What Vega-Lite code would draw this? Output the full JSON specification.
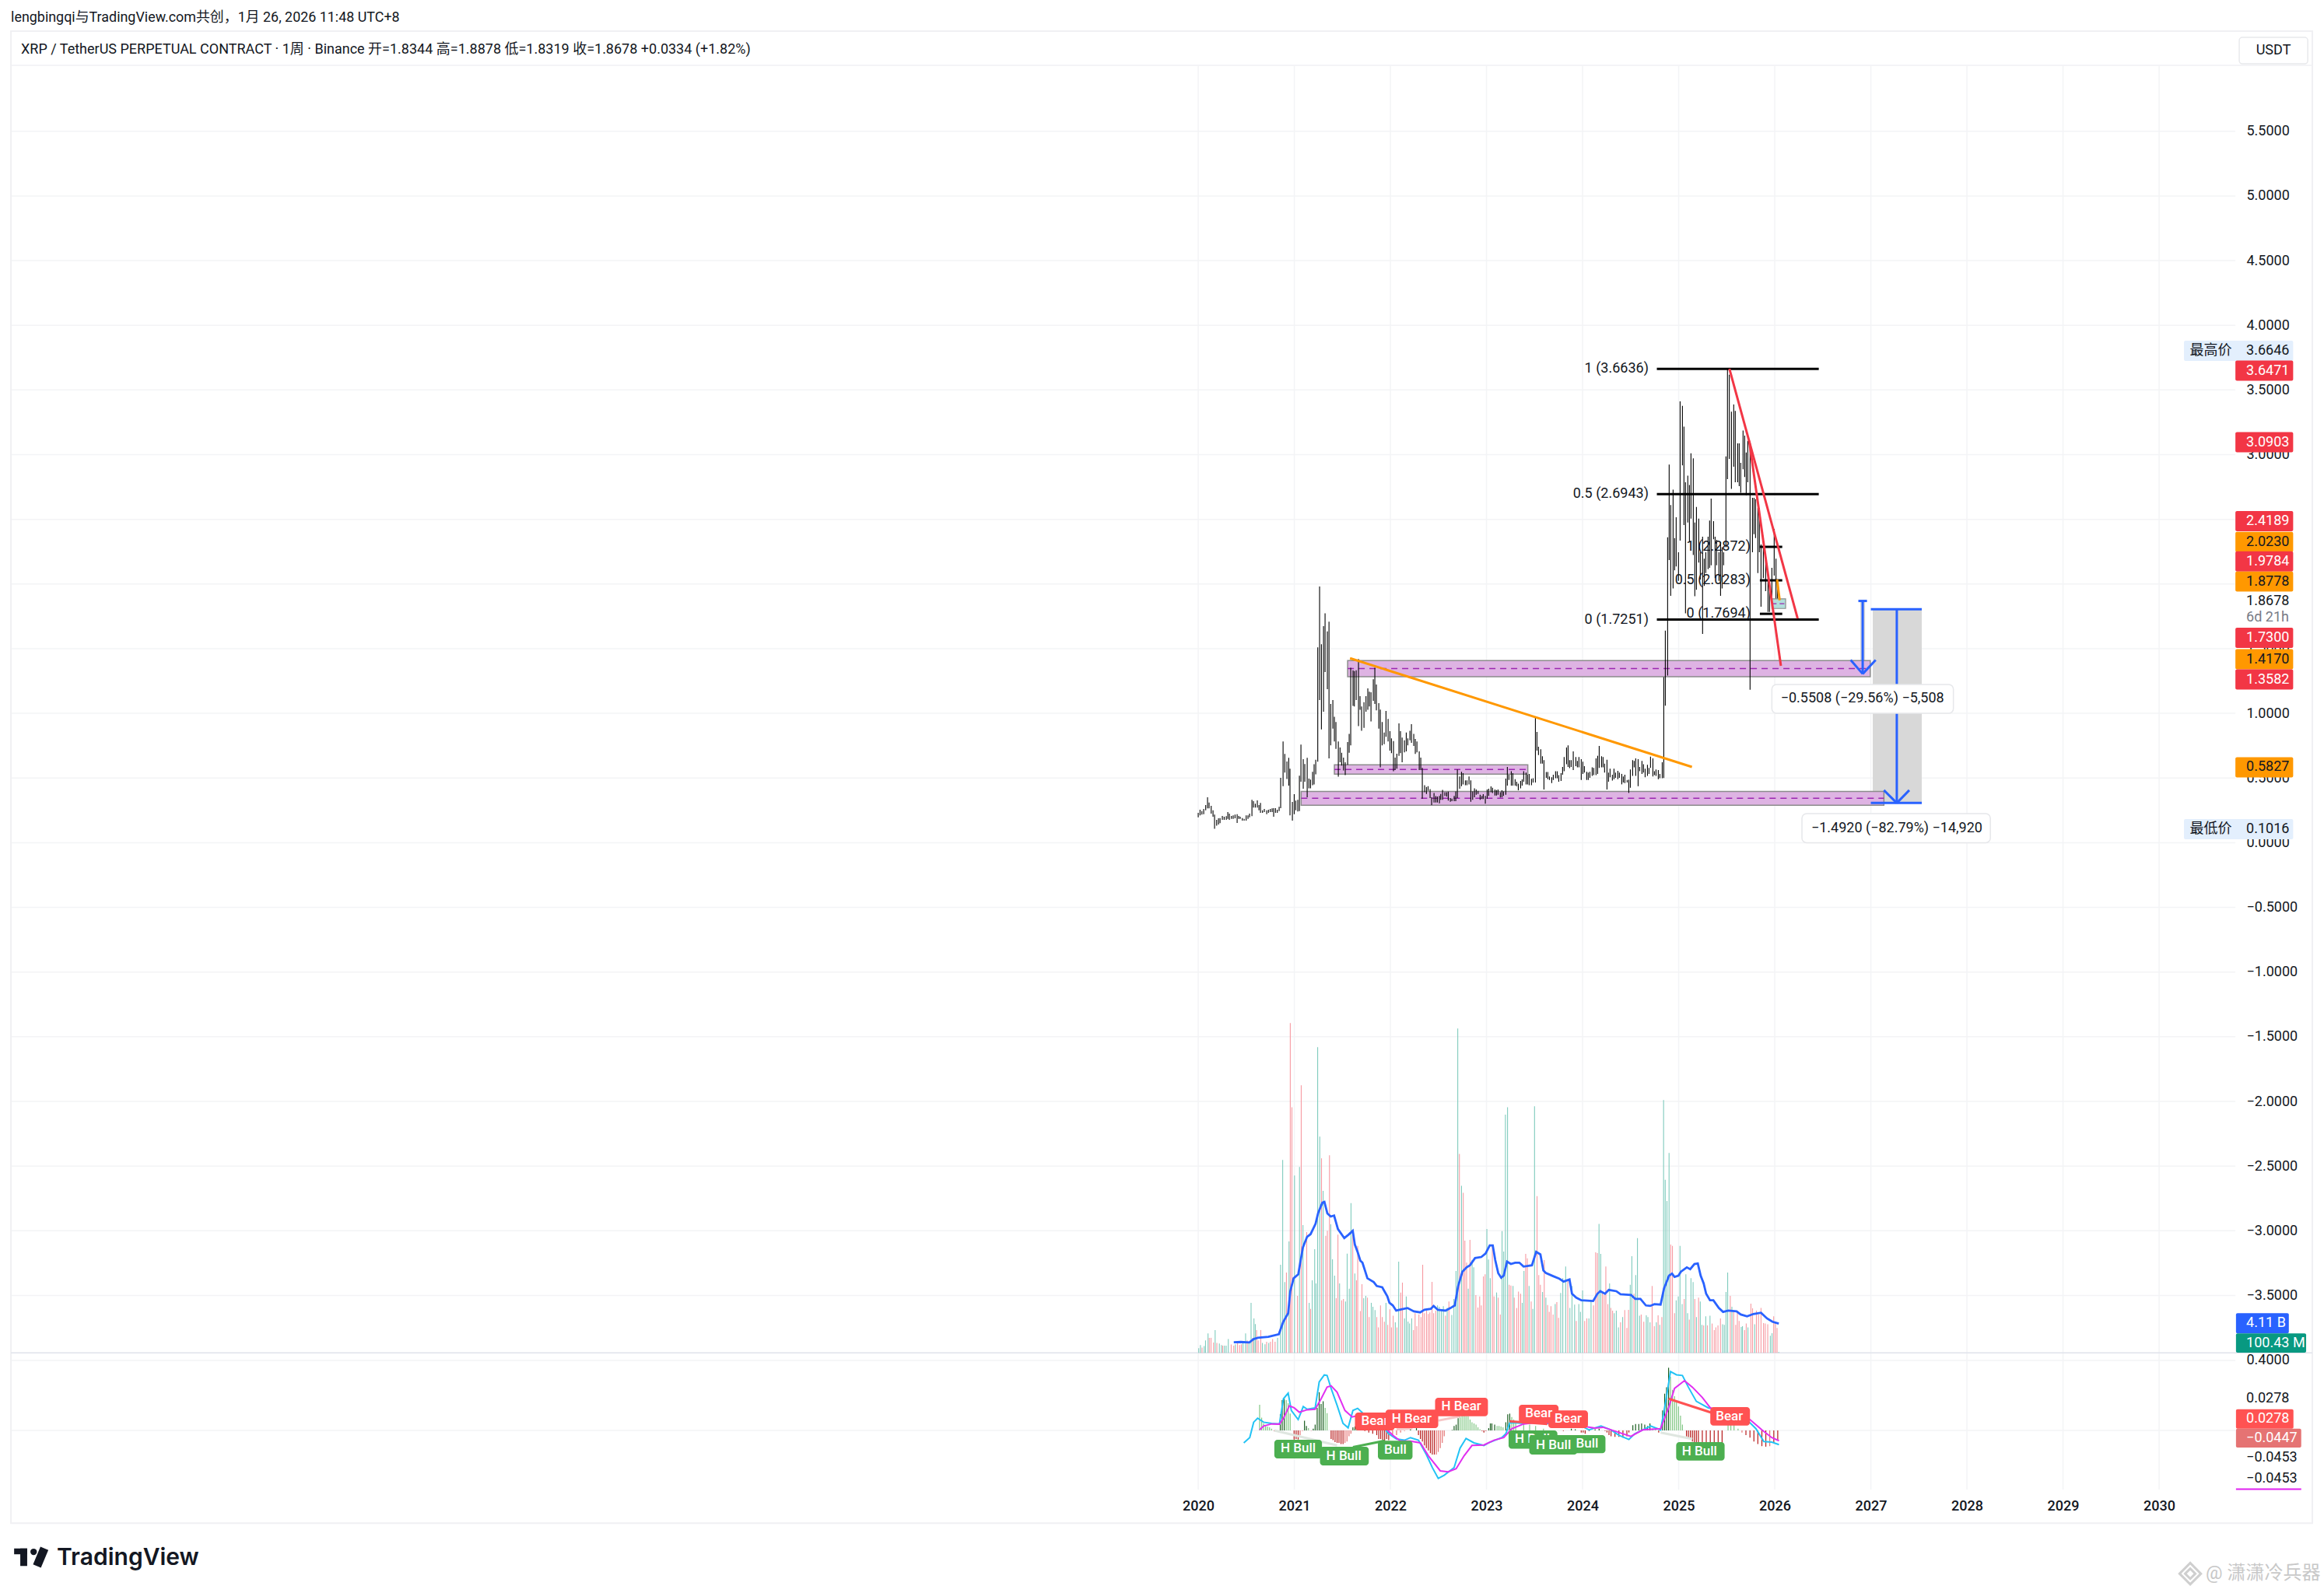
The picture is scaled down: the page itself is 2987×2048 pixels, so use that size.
{
"$schema":"https://vega.github.io/schema/vega-lite/v6.json",
"width":2987,"height":2048,"padding":0,"autosize":{"type":"none"},"background":"#ffffff",
"config":{"font":"Roboto, 'Noto Sans CJK SC'","view":{"stroke":null},"legend":{"disable":true}},
"datasets":{
"frame":[{"t":2007.644,"t2":2031.595,"p":6.274,"p2":-5.26}],
"gridH":[{"p":5.5,"t":2007.652,"t2":2030.794},{"p":5,"t":2007.652,"t2":2030.794},{"p":4.5,"t":2007.652,"t2":2030.794},{"p":4,"t":2007.652,"t2":2030.794},{"p":3.5,"t":2007.652,"t2":2030.794},{"p":3,"t":2007.652,"t2":2030.794},{"p":2.5,"t":2007.652,"t2":2030.794},{"p":2,"t":2007.652,"t2":2030.794},{"p":1.5,"t":2007.652,"t2":2030.794},{"p":1,"t":2007.652,"t2":2030.794},{"p":0.5,"t":2007.652,"t2":2030.794},{"p":0,"t":2007.652,"t2":2030.794},{"p":-0.5,"t":2007.652,"t2":2030.794},{"p":-1,"t":2007.652,"t2":2030.794},{"p":-1.5,"t":2007.652,"t2":2030.794},{"p":-2,"t":2007.652,"t2":2030.794},{"p":-2.5,"t":2007.652,"t2":2030.794},{"p":-3,"t":2007.652,"t2":2030.794},{"p":-3.5,"t":2007.652,"t2":2030.794}],
"gridV":[{"t":2020,"p":6.01,"p2":-5},{"t":2021,"p":6.01,"p2":-5},{"t":2022,"p":6.01,"p2":-5},{"t":2023,"p":6.01,"p2":-5},{"t":2024,"p":6.01,"p2":-5},{"t":2025,"p":6.01,"p2":-5},{"t":2026,"p":6.01,"p2":-5},{"t":2027,"p":6.01,"p2":-5},{"t":2028,"p":6.01,"p2":-5},{"t":2029,"p":6.01,"p2":-5},{"t":2030,"p":6.01,"p2":-5}],
"paneTop":[{"t":2007.644,"t2":2031.595,"p":6.009}],
"paneMid":[{"t":2007.644,"t2":2031.595,"p":-3.943}],
"boxes":[{"t":2027.02,"t2":2027.53,"p":1.805,"p2":0.307},{"t":2026.89,"t2":2026.94,"p":1.869,"p2":1.305}],
"zones":[{"t":2021.555,"t2":2026.994,"p":1.408,"p2":1.283,"mid":1.347},{"t":2021.417,"t2":2023.43,"p":0.602,"p2":0.53,"mid":0.566},{"t":2021.071,"t2":2027.136,"p":0.397,"p2":0.289,"mid":0.343}],
"greenBox":[{"t":2025.97,"t2":2026.113,"p":1.885,"p2":1.811,"mid":1.848}],
"candles":[
{"t":2020.000,"p":0.231,"p2":0.197},{"t":2020.019,"p":0.255,"p2":0.211},{"t":2020.038,"p":0.245,"p2":0.217},{"t":2020.057,"p":0.261,"p2":0.221},{"t":2020.078,"p":0.291,"p2":0.251},{"t":2020.097,"p":0.351,"p2":0.265},{"t":2020.113,"p":0.311,"p2":0.265},{"t":2020.135,"p":0.285,"p2":0.225},{"t":2020.154,"p":0.251,"p2":0.201},{"t":2020.170,"p":0.217,"p2":0.107},
{"t":2020.192,"p":0.177,"p2":0.131},{"t":2020.211,"p":0.189,"p2":0.141},{"t":2020.227,"p":0.191,"p2":0.151},{"t":2020.251,"p":0.207,"p2":0.177},{"t":2020.270,"p":0.201,"p2":0.177},{"t":2020.292,"p":0.205,"p2":0.177},{"t":2020.308,"p":0.237,"p2":0.185},{"t":2020.324,"p":0.225,"p2":0.177},{"t":2020.346,"p":0.207,"p2":0.185},{"t":2020.364,"p":0.211,"p2":0.185},
{"t":2020.383,"p":0.217,"p2":0.189},{"t":2020.405,"p":0.221,"p2":0.153},{"t":2020.421,"p":0.207,"p2":0.185},{"t":2020.437,"p":0.201,"p2":0.185},{"t":2020.459,"p":0.191,"p2":0.171},{"t":2020.478,"p":0.185,"p2":0.171},{"t":2020.499,"p":0.211,"p2":0.171},{"t":2020.518,"p":0.211,"p2":0.185},{"t":2020.534,"p":0.225,"p2":0.197},{"t":2020.559,"p":0.331,"p2":0.205},
{"t":2020.575,"p":0.321,"p2":0.271},{"t":2020.594,"p":0.301,"p2":0.271},{"t":2020.615,"p":0.327,"p2":0.271},{"t":2020.632,"p":0.291,"p2":0.251},{"t":2020.648,"p":0.307,"p2":0.231},{"t":2020.669,"p":0.251,"p2":0.231},{"t":2020.688,"p":0.261,"p2":0.237},{"t":2020.713,"p":0.251,"p2":0.221},{"t":2020.731,"p":0.255,"p2":0.231},{"t":2020.750,"p":0.261,"p2":0.237},
{"t":2020.769,"p":0.265,"p2":0.237},{"t":2020.785,"p":0.267,"p2":0.201},{"t":2020.804,"p":0.267,"p2":0.231},{"t":2020.823,"p":0.255,"p2":0.231},{"t":2020.842,"p":0.277,"p2":0.245},{"t":2020.858,"p":0.502,"p2":0.267},{"t":2020.883,"p":0.782,"p2":0.437},{"t":2020.901,"p":0.686,"p2":0.542},{"t":2020.923,"p":0.628,"p2":0.492},{"t":2020.942,"p":0.656,"p2":0.442},
{"t":2020.955,"p":0.572,"p2":0.211},{"t":2020.980,"p":0.315,"p2":0.171},{"t":2020.999,"p":0.375,"p2":0.221},{"t":2021.015,"p":0.325,"p2":0.251},{"t":2021.036,"p":0.331,"p2":0.241},{"t":2021.053,"p":0.518,"p2":0.245},{"t":2021.069,"p":0.758,"p2":0.472},{"t":2021.093,"p":0.646,"p2":0.417},{"t":2021.109,"p":0.608,"p2":0.472},{"t":2021.134,"p":0.656,"p2":0.351},
{"t":2021.152,"p":0.496,"p2":0.421},{"t":2021.169,"p":0.488,"p2":0.421},{"t":2021.190,"p":0.548,"p2":0.445},{"t":2021.206,"p":0.606,"p2":0.451},{"t":2021.223,"p":0.642,"p2":0.528},{"t":2021.244,"p":1.51,"p2":0.626},{"t":2021.263,"p":1.981,"p2":1.103},{"t":2021.282,"p":1.534,"p2":0.876},{"t":2021.304,"p":1.674,"p2":1.013},{"t":2021.320,"p":1.774,"p2":1.319},
{"t":2021.344,"p":1.634,"p2":1.187},{"t":2021.361,"p":1.708,"p2":0.652},{"t":2021.379,"p":1.073,"p2":0.752},{"t":2021.401,"p":1.103,"p2":0.882},{"t":2021.417,"p":0.973,"p2":0.782},{"t":2021.433,"p":0.933,"p2":0.726},{"t":2021.458,"p":0.782,"p2":0.511},{"t":2021.476,"p":0.736,"p2":0.622},{"t":2021.493,"p":0.696,"p2":0.596},{"t":2021.512,"p":0.658,"p2":0.558},
{"t":2021.530,"p":0.622,"p2":0.522},{"t":2021.555,"p":0.778,"p2":0.602},{"t":2021.571,"p":0.842,"p2":0.696},{"t":2021.587,"p":1.353,"p2":0.752},{"t":2021.611,"p":1.333,"p2":1.057},{"t":2021.625,"p":1.327,"p2":1.053},{"t":2021.644,"p":1.333,"p2":1.103},{"t":2021.668,"p":1.42,"p2":0.902},{"t":2021.684,"p":1.133,"p2":1.027},{"t":2021.700,"p":1.053,"p2":0.866},
{"t":2021.725,"p":1.087,"p2":0.888},{"t":2021.746,"p":1.133,"p2":1.013},{"t":2021.765,"p":1.193,"p2":1.027},{"t":2021.781,"p":1.167,"p2":1.053},{"t":2021.798,"p":1.163,"p2":0.937},{"t":2021.822,"p":1.263,"p2":1.097},{"t":2021.838,"p":1.353,"p2":1.073},{"t":2021.854,"p":1.223,"p2":1.023},{"t":2021.879,"p":1.079,"p2":0.882},{"t":2021.895,"p":1.029,"p2":0.582},
{"t":2021.914,"p":0.933,"p2":0.752},{"t":2021.935,"p":0.852,"p2":0.762},{"t":2021.954,"p":1.019,"p2":0.818},{"t":2021.976,"p":0.957,"p2":0.782},{"t":2021.995,"p":0.862,"p2":0.712},{"t":2022.011,"p":0.806,"p2":0.692},{"t":2022.032,"p":0.786,"p2":0.552},{"t":2022.049,"p":0.658,"p2":0.562},{"t":2022.067,"p":0.688,"p2":0.572},{"t":2022.089,"p":0.923,"p2":0.672},
{"t":2022.105,"p":0.862,"p2":0.692},{"t":2022.122,"p":0.812,"p2":0.622},{"t":2022.146,"p":0.792,"p2":0.698},{"t":2022.165,"p":0.852,"p2":0.706},{"t":2022.181,"p":0.806,"p2":0.752},{"t":2022.203,"p":0.866,"p2":0.792},{"t":2022.219,"p":0.916,"p2":0.772},{"t":2022.243,"p":0.842,"p2":0.748},{"t":2022.259,"p":0.802,"p2":0.686},{"t":2022.276,"p":0.782,"p2":0.698},
{"t":2022.300,"p":0.706,"p2":0.562},{"t":2022.316,"p":0.658,"p2":0.562},{"t":2022.332,"p":0.578,"p2":0.341},{"t":2022.356,"p":0.445,"p2":0.391},{"t":2022.375,"p":0.431,"p2":0.377},{"t":2022.392,"p":0.437,"p2":0.401},{"t":2022.413,"p":0.415,"p2":0.345},{"t":2022.429,"p":0.351,"p2":0.291},{"t":2022.454,"p":0.385,"p2":0.311},{"t":2022.473,"p":0.361,"p2":0.311},
{"t":2022.489,"p":0.357,"p2":0.311},{"t":2022.510,"p":0.361,"p2":0.305},{"t":2022.524,"p":0.377,"p2":0.331},{"t":2022.543,"p":0.409,"p2":0.331},{"t":2022.567,"p":0.391,"p2":0.361},{"t":2022.586,"p":0.391,"p2":0.357},{"t":2022.602,"p":0.395,"p2":0.325},{"t":2022.624,"p":0.345,"p2":0.317},{"t":2022.640,"p":0.341,"p2":0.321},{"t":2022.664,"p":0.361,"p2":0.321},
{"t":2022.680,"p":0.397,"p2":0.321},{"t":2022.697,"p":0.566,"p2":0.345},{"t":2022.721,"p":0.512,"p2":0.417},{"t":2022.740,"p":0.548,"p2":0.437},{"t":2022.756,"p":0.538,"p2":0.451},{"t":2022.780,"p":0.482,"p2":0.445},{"t":2022.796,"p":0.482,"p2":0.445},{"t":2022.818,"p":0.512,"p2":0.451},{"t":2022.837,"p":0.482,"p2":0.317},{"t":2022.856,"p":0.397,"p2":0.331},
{"t":2022.875,"p":0.421,"p2":0.351},{"t":2022.893,"p":0.411,"p2":0.371},{"t":2022.912,"p":0.401,"p2":0.377},{"t":2022.934,"p":0.371,"p2":0.331},{"t":2022.953,"p":0.361,"p2":0.337},{"t":2022.966,"p":0.375,"p2":0.337},{"t":2022.988,"p":0.361,"p2":0.301},
{"t":2023.007,"p":0.411,"p2":0.341},{"t":2023.023,"p":0.417,"p2":0.361},{"t":2023.047,"p":0.435,"p2":0.391},{"t":2023.063,"p":0.425,"p2":0.385},{"t":2023.088,"p":0.411,"p2":0.365},{"t":2023.104,"p":0.407,"p2":0.365},{"t":2023.120,"p":0.411,"p2":0.371},{"t":2023.144,"p":0.391,"p2":0.349},{"t":2023.161,"p":0.405,"p2":0.351},{"t":2023.177,"p":0.397,"p2":0.361},
{"t":2023.201,"p":0.495,"p2":0.371},{"t":2023.217,"p":0.586,"p2":0.441},{"t":2023.233,"p":0.526,"p2":0.485},{"t":2023.258,"p":0.552,"p2":0.441},{"t":2023.274,"p":0.538,"p2":0.441},{"t":2023.298,"p":0.491,"p2":0.441},{"t":2023.314,"p":0.471,"p2":0.437},{"t":2023.331,"p":0.457,"p2":0.405},{"t":2023.355,"p":0.477,"p2":0.421},{"t":2023.371,"p":0.489,"p2":0.441},
{"t":2023.387,"p":0.552,"p2":0.471},{"t":2023.412,"p":0.542,"p2":0.451},{"t":2023.428,"p":0.526,"p2":0.451},{"t":2023.444,"p":0.532,"p2":0.445},{"t":2023.468,"p":0.494,"p2":0.445},{"t":2023.485,"p":0.498,"p2":0.465},{"t":2023.509,"p":0.969,"p2":0.465},{"t":2023.525,"p":0.856,"p2":0.712},{"t":2023.541,"p":0.742,"p2":0.678},{"t":2023.565,"p":0.722,"p2":0.612},
{"t":2023.582,"p":0.668,"p2":0.612},{"t":2023.598,"p":0.638,"p2":0.411},{"t":2023.622,"p":0.546,"p2":0.502},{"t":2023.638,"p":0.546,"p2":0.491},{"t":2023.655,"p":0.512,"p2":0.485},{"t":2023.679,"p":0.506,"p2":0.461},{"t":2023.695,"p":0.526,"p2":0.485},{"t":2023.719,"p":0.552,"p2":0.498},{"t":2023.736,"p":0.552,"p2":0.498},{"t":2023.752,"p":0.522,"p2":0.471},
{"t":2023.776,"p":0.538,"p2":0.477},{"t":2023.792,"p":0.586,"p2":0.526},{"t":2023.808,"p":0.662,"p2":0.552},{"t":2023.833,"p":0.736,"p2":0.606},{"t":2023.849,"p":0.752,"p2":0.586},{"t":2023.865,"p":0.638,"p2":0.576},{"t":2023.881,"p":0.638,"p2":0.586},{"t":2023.903,"p":0.706,"p2":0.562},{"t":2023.930,"p":0.662,"p2":0.592},{"t":2023.946,"p":0.632,"p2":0.582},
{"t":2023.962,"p":0.662,"p2":0.582},{"t":2023.986,"p":0.646,"p2":0.485},{"t":2024.003,"p":0.626,"p2":0.532},{"t":2024.019,"p":0.592,"p2":0.542},{"t":2024.043,"p":0.548,"p2":0.485},{"t":2024.059,"p":0.542,"p2":0.485},{"t":2024.076,"p":0.548,"p2":0.502},{"t":2024.100,"p":0.582,"p2":0.517},{"t":2024.116,"p":0.578,"p2":0.522},{"t":2024.140,"p":0.652,"p2":0.522},
{"t":2024.157,"p":0.672,"p2":0.532},{"t":2024.173,"p":0.748,"p2":0.578},{"t":2024.197,"p":0.668,"p2":0.582},{"t":2024.213,"p":0.662,"p2":0.582},{"t":2024.229,"p":0.612,"p2":0.542},{"t":2024.254,"p":0.642,"p2":0.411},{"t":2024.270,"p":0.542,"p2":0.471},{"t":2024.286,"p":0.572,"p2":0.506},{"t":2024.310,"p":0.526,"p2":0.481},{"t":2024.327,"p":0.572,"p2":0.491},
{"t":2024.343,"p":0.542,"p2":0.502},{"t":2024.367,"p":0.556,"p2":0.491},{"t":2024.383,"p":0.542,"p2":0.502},{"t":2024.408,"p":0.532,"p2":0.451},{"t":2024.424,"p":0.512,"p2":0.465},{"t":2024.440,"p":0.526,"p2":0.461},{"t":2024.464,"p":0.485,"p2":0.465},{"t":2024.481,"p":0.487,"p2":0.385},{"t":2024.497,"p":0.566,"p2":0.425},{"t":2024.521,"p":0.638,"p2":0.517},
{"t":2024.537,"p":0.632,"p2":0.582},{"t":2024.553,"p":0.652,"p2":0.517},{"t":2024.578,"p":0.646,"p2":0.437},{"t":2024.594,"p":0.586,"p2":0.552},{"t":2024.618,"p":0.632,"p2":0.532},{"t":2024.634,"p":0.606,"p2":0.542},{"t":2024.651,"p":0.572,"p2":0.506},{"t":2024.675,"p":0.602,"p2":0.517},{"t":2024.691,"p":0.578,"p2":0.532},{"t":2024.707,"p":0.666,"p2":0.578},
{"t":2024.732,"p":0.652,"p2":0.512},{"t":2024.748,"p":0.552,"p2":0.522},{"t":2024.764,"p":0.566,"p2":0.517},{"t":2024.788,"p":0.562,"p2":0.491},{"t":2024.804,"p":0.532,"p2":0.498},{"t":2024.829,"p":0.622,"p2":0.498},{"t":2024.845,"p":1.28,"p2":0.5},{"t":2024.861,"p":1.64,"p2":1.059},{"t":2024.885,"p":2.361,"p2":1.293},{"t":2024.901,"p":2.923,"p2":2.185},
{"t":2024.917,"p":2.61,"p2":1.909},{"t":2024.942,"p":2.73,"p2":1.965},{"t":2024.958,"p":2.355,"p2":2.105},{"t":2024.974,"p":2.516,"p2":2.135},{"t":2024.998,"p":2.245,"p2":2.025},{"t":2025.015,"p":3.412,"p2":2.335},{"t":2025.039,"p":3.378,"p2":2.917},{"t":2025.055,"p":3.217,"p2":2.456},{"t":2025.071,"p":2.786,"p2":1.774},{"t":2025.095,"p":2.837,"p2":2.476},
{"t":2025.112,"p":2.766,"p2":2.325},{"t":2025.128,"p":3.011,"p2":2.506},{"t":2025.152,"p":2.971,"p2":2.225},{"t":2025.168,"p":2.476,"p2":1.905},{"t":2025.185,"p":2.596,"p2":1.955},{"t":2025.209,"p":2.506,"p2":2.165},{"t":2025.225,"p":2.245,"p2":2.035},{"t":2025.249,"p":2.365,"p2":1.614},{"t":2025.266,"p":2.195,"p2":1.985},{"t":2025.282,"p":2.245,"p2":2.085},
{"t":2025.306,"p":2.365,"p2":2.115},{"t":2025.322,"p":2.49,"p2":2.125},{"t":2025.338,"p":2.66,"p2":2.145},{"t":2025.363,"p":2.486,"p2":2.346},{"t":2025.379,"p":2.365,"p2":2.045},{"t":2025.395,"p":2.341,"p2":2.145},{"t":2025.419,"p":2.245,"p2":2.025},{"t":2025.436,"p":2.325,"p2":1.909},{"t":2025.452,"p":2.285,"p2":1.965},{"t":2025.468,"p":2.245,"p2":2.145},
{"t":2025.492,"p":2.987,"p2":2.285},{"t":2025.508,"p":3.659,"p2":2.811},{"t":2025.527,"p":3.618,"p2":2.967},{"t":2025.549,"p":3.332,"p2":2.736},{"t":2025.573,"p":3.388,"p2":2.907},{"t":2025.589,"p":3.338,"p2":2.786},{"t":2025.614,"p":3.087,"p2":2.786},{"t":2025.630,"p":3.087,"p2":2.756},{"t":2025.646,"p":2.937,"p2":2.706},{"t":2025.670,"p":3.187,"p2":2.887},
{"t":2025.687,"p":3.147,"p2":2.827},{"t":2025.703,"p":3.017,"p2":2.686},{"t":2025.719,"p":3.107,"p2":2.786},{"t":2025.743,"p":3.047,"p2":1.183},{"t":2025.768,"p":2.666,"p2":2.245},{"t":2025.784,"p":2.666,"p2":2.385},{"t":2025.800,"p":2.656,"p2":2.355},{"t":2025.824,"p":2.586,"p2":2.085},{"t":2025.840,"p":2.586,"p2":2.245},{"t":2025.857,"p":2.305,"p2":1.824},
{"t":2025.881,"p":2.285,"p2":2.045},{"t":2025.905,"p":2.185,"p2":1.945},{"t":2025.930,"p":2.025,"p2":1.784},{"t":2025.946,"p":2.025,"p2":1.784},{"t":2025.970,"p":2.125,"p2":1.885},{"t":2025.994,"p":2.426,"p2":2.065},{"t":2026.013,"p":2.195,"p2":1.885},{"t":2026.029,"p":2.035,"p2":1.875},{"t":2026.051,"p":1.885,"p2":1.834}],
"ann":[
{"t":2024.773,"t2":2026.458,"p":3.6636,"p2":3.6636,"k":"black"},{"t":2024.773,"t2":2026.458,"p":2.6943,"p2":2.6943,"k":"black"},{"t":2024.773,"t2":2026.458,"p":1.7251,"p2":1.7251,"k":"black"},
{"t":2025.845,"t2":2026.078,"p":2.2872,"p2":2.2872,"k":"black"},{"t":2025.845,"t2":2026.078,"p":2.0283,"p2":2.0283,"k":"black"},{"t":2025.845,"t2":2026.078,"p":1.7694,"p2":1.7694,"k":"black"},
{"t":2025.528,"t2":2026.238,"p":3.6636,"p2":1.734,"k":"red"},{"t":2025.734,"t2":2026.064,"p":3.105,"p2":1.367,"k":"red"},
{"t":2021.58,"t2":2025.138,"p":1.426,"p2":0.586,"k":"orange"},{"t":2026.024,"t2":2026.051,"p":2.035,"p2":1.874,"k":"orange"},
{"t":2027.27,"t2":2027.27,"p":1.805,"p2":0.307,"k":"blue"},{"t":2027.0,"t2":2027.53,"p":1.805,"p2":1.805,"k":"blue"},{"t":2027.0,"t2":2027.53,"p":0.307,"p2":0.307,"k":"blue"},{"t":2027.136,"t2":2027.27,"p":0.406,"p2":0.307,"k":"blue"},{"t":2027.4,"t2":2027.27,"p":0.406,"p2":0.307,"k":"blue"},
{"t":2026.915,"t2":2026.915,"p":1.869,"p2":1.305,"k":"blue"},{"t":2026.87,"t2":2026.96,"p":1.869,"p2":1.869,"k":"blue"},{"t":2026.79,"t2":2026.915,"p":1.412,"p2":1.305,"k":"blue"},{"t":2027.05,"t2":2026.915,"p":1.412,"p2":1.305,"k":"blue"}],
"fibLeft":[{"t":2024.687,"p":3.6636,"s":"1 (3.6636)"},{"t":2024.687,"p":2.6943,"s":"0.5 (2.6943)"},{"t":2024.687,"p":1.7251,"s":"0 (1.7251)"},{"t":2025.748,"p":2.2872,"s":"1 (2.2872)"},{"t":2025.748,"p":2.0283,"s":"0.5 (2.0283)"},{"t":2025.748,"p":1.7694,"s":"0 (1.7694)"}],
"tips":[{"t":2025.97,"t2":2027.859,"p":1.223,"p2":1.0},{"t":2026.283,"t2":2028.244,"p":0.225,"p2":0.0}],
"tipText":[{"t":2026.912,"p":1.112,"s":"−0.5508 (−29.56%) −5,508"},{"t":2027.27,"p":0.112,"s":"−1.4920 (−82.79%) −14,920"},{"t":2031.19,"p":6.124,"s":"USDT"}],
"usdt":[{"t":2030.834,"t2":2031.547,"p":6.226,"p2":6.021}],
"flags":[
{"t":2030.259,"t2":2031.395,"p":3.881,"p2":3.725,"k":"info"},{"t":2030.794,"t2":2031.395,"p":3.727,"p2":3.571,"k":"red"},{"t":2030.794,"t2":2031.395,"p":3.174,"p2":3.018,"k":"red"},
{"t":2030.794,"t2":2031.395,"p":2.564,"p2":2.408,"k":"red"},{"t":2030.794,"t2":2031.395,"p":2.403,"p2":2.247,"k":"orange"},{"t":2030.794,"t2":2031.395,"p":2.253,"p2":2.097,"k":"red"},{"t":2030.794,"t2":2031.395,"p":2.097,"p2":1.941,"k":"orange"},
{"t":2030.794,"t2":2031.395,"p":1.662,"p2":1.506,"k":"red"},{"t":2030.794,"t2":2031.395,"p":1.496,"p2":1.34,"k":"orange"},{"t":2030.794,"t2":2031.395,"p":1.34,"p2":1.184,"k":"red"},{"t":2030.794,"t2":2031.395,"p":0.661,"p2":0.505,"k":"orange"},
{"t":2030.259,"t2":2031.395,"p":0.183,"p2":0.027,"k":"info"}],
"flagText":[
{"t":2030.907,"p":3.803,"s":"3.6646","k":"ink"},{"t":2030.907,"p":3.649,"s":"3.6471","k":"white"},{"t":2030.907,"p":3.096,"s":"3.0903","k":"white"},{"t":2030.907,"p":2.486,"s":"2.4189","k":"white"},{"t":2030.907,"p":2.325,"s":"2.0230","k":"ink"},{"t":2030.907,"p":2.175,"s":"1.9784","k":"white"},{"t":2030.907,"p":2.019,"s":"1.8778","k":"ink"},{"t":2030.907,"p":1.869,"s":"1.8678","k":"ink"},{"t":2030.907,"p":1.74,"s":"6d 21h","k":"mute"},{"t":2030.907,"p":1.584,"s":"1.7300","k":"white"},{"t":2030.907,"p":1.418,"s":"1.4170","k":"ink"},{"t":2030.907,"p":1.262,"s":"1.3582","k":"white"},{"t":2030.907,"p":0.583,"s":"0.5827","k":"ink"},{"t":2030.907,"p":0.105,"s":"0.1016","k":"ink"},
{"t":2030.32,"p":3.803,"s":"最高价","k":"ink"},{"t":2030.32,"p":0.105,"s":"最低价","k":"ink"}],
"header1":[{"t":2007.644,"p":6.377,"s":"lengbingqi与TradingView.com共创，1月 26, 2026 11:48 UTC+8"}],
"header2":[{"t":2007.749,"p":6.13,"s":"XRP / TetherUS PERPETUAL CONTRACT · 1周 · Binance   开=1.8344   高=1.8878   低=1.8319   收=1.8678   +0.0334 (+1.82%)"}],
"logoRect":[{"t":2007.677,"t2":2007.813,"p":-5.456,"p2":-5.501},{"t":2007.741,"t2":2007.813,"p":-5.456,"p2":-5.592}],
"logoDot":[{"t":2007.88,"p":-5.482}],
"logoSlash":[{"t":2007.992,"t2":2007.915,"p":-5.456,"p2":-5.592}],
"logoText":[{"t":2008.121,"p":-5.53,"s":"TradingView"}],
"mark":[{"t":2030.486,"p":-5.651,"s":"@ 潇潇冷兵器"}],
"markIcon":[{"t":2030.324,"p":-5.651,"z":750},{"t":2030.324,"p":-5.651,"z":170}],
"volume":[
{"t":2020.005,"v":0.65,"k":"up"},{"t":2020.023,"v":1.08,"k":"up"},{"t":2020.040,"v":0.72,"k":"down"},{"t":2020.062,"v":0.94,"k":"up"},{"t":2020.076,"v":1.73,"k":"up"},{"t":2020.102,"v":2.7,"k":"up"},{"t":2020.115,"v":2.09,"k":"down"},{"t":2020.133,"v":2.09,"k":"down"},{"t":2020.159,"v":1.44,"k":"down"},{"t":2020.176,"v":3.17,"k":"up"},{"t":2020.194,"v":1.37,"k":"down"},{"t":2020.220,"v":1.3,"k":"up"},{"t":2020.242,"v":1.08,"k":"up"},{"t":2020.255,"v":1.01,"k":"down"},{"t":2020.273,"v":1.01,"k":"up"},{"t":2020.291,"v":1.01,"k":"up"},{"t":2020.313,"v":1.91,"k":"up"},{"t":2020.343,"v":1.15,"k":"down"},{"t":2020.370,"v":1.01,"k":"down"},{"t":2020.387,"v":1.19,"k":"up"},{"t":2020.409,"v":1.37,"k":"down"},{"t":2020.431,"v":1.08,"k":"down"},{"t":2020.449,"v":1.19,"k":"down"},{"t":2020.466,"v":1.44,"k":"up"},{"t":2020.493,"v":2.7,"k":"up"},{"t":2020.510,"v":1.73,"k":"down"},{"t":2020.528,"v":1.55,"k":"up"},{"t":2020.550,"v":6.95,"k":"up"},{"t":2020.567,"v":2.09,"k":"down"},{"t":2020.580,"v":4.79,"k":"up"},{"t":2020.594,"v":4.0,"k":"up"},{"t":2020.607,"v":3.17,"k":"down"},{"t":2020.624,"v":1.73,"k":"down"},{"t":2020.651,"v":3.17,"k":"down"},{"t":2020.668,"v":1.37,"k":"up"},{"t":2020.695,"v":1.19,"k":"up"},{"t":2020.712,"v":1.55,"k":"down"},{"t":2020.734,"v":1.37,"k":"up"},{"t":2020.752,"v":1.55,"k":"down"},{"t":2020.774,"v":1.91,"k":"down"},{"t":2020.800,"v":1.55,"k":"down"},{"t":2020.826,"v":2.09,"k":"up"},{"t":2020.857,"v":12.24,"k":"up"},{"t":2020.879,"v":26.82,"k":"up"},{"t":2020.901,"v":9.83,"k":"up"},{"t":2020.918,"v":11.16,"k":"down"},{"t":2020.945,"v":15.48,"k":"up"},{"t":2020.958,"v":45.83,"k":"down"},{"t":2020.975,"v":34.13,"k":"down"},
{"t":2021.002,"v":24.66,"k":"up"},{"t":2021.033,"v":7.92,"k":"down"},{"t":2021.054,"v":25.85,"k":"up"},{"t":2021.072,"v":37.19,"k":"down"},{"t":2021.090,"v":17.75,"k":"up"},{"t":2021.129,"v":16.78,"k":"down"},{"t":2021.155,"v":6.95,"k":"up"},{"t":2021.169,"v":6.12,"k":"down"},{"t":2021.186,"v":10.08,"k":"up"},{"t":2021.212,"v":14.4,"k":"up"},{"t":2021.226,"v":9.65,"k":"up"},{"t":2021.243,"v":42.48,"k":"up"},{"t":2021.265,"v":30.06,"k":"up"},{"t":2021.283,"v":27.04,"k":"down"},{"t":2021.300,"v":22.5,"k":"up"},{"t":2021.327,"v":16.27,"k":"down"},{"t":2021.344,"v":16.96,"k":"down"},{"t":2021.366,"v":27.47,"k":"down"},{"t":2021.379,"v":17.86,"k":"up"},{"t":2021.397,"v":13.0,"k":"up"},{"t":2021.419,"v":10.73,"k":"up"},{"t":2021.436,"v":7.6,"k":"down"},{"t":2021.454,"v":16.42,"k":"down"},{"t":2021.471,"v":9.65,"k":"up"},{"t":2021.493,"v":7.31,"k":"down"},{"t":2021.511,"v":7.49,"k":"down"},{"t":2021.533,"v":7.13,"k":"up"},{"t":2021.550,"v":13.79,"k":"up"},{"t":2021.572,"v":8.93,"k":"up"},{"t":2021.590,"v":20.81,"k":"up"},{"t":2021.608,"v":17.03,"k":"down"},{"t":2021.630,"v":11.02,"k":"up"},{"t":2021.647,"v":10.08,"k":"down"},{"t":2021.660,"v":14.87,"k":"down"},{"t":2021.687,"v":5.8,"k":"down"},{"t":2021.704,"v":9.54,"k":"down"},{"t":2021.722,"v":7.6,"k":"up"},{"t":2021.744,"v":7.92,"k":"up"},{"t":2021.761,"v":7.67,"k":"down"},{"t":2021.779,"v":4.97,"k":"down"},{"t":2021.801,"v":6.95,"k":"up"},{"t":2021.818,"v":6.41,"k":"up"},{"t":2021.840,"v":5.94,"k":"up"},{"t":2021.858,"v":4.97,"k":"down"},{"t":2021.875,"v":3.53,"k":"down"},{"t":2021.897,"v":6.59,"k":"down"},{"t":2021.915,"v":4.97,"k":"down"},{"t":2021.937,"v":4.32,"k":"down"},{"t":2021.954,"v":6.95,"k":"up"},{"t":2021.972,"v":3.89,"k":"down"},{"t":2021.994,"v":6.05,"k":"down"},
{"t":2022.011,"v":3.53,"k":"down"},{"t":2022.029,"v":5.15,"k":"down"},{"t":2022.051,"v":4.25,"k":"up"},{"t":2022.068,"v":3.53,"k":"down"},{"t":2022.086,"v":12.67,"k":"up"},{"t":2022.108,"v":8.39,"k":"down"},{"t":2022.125,"v":9.76,"k":"down"},{"t":2022.147,"v":4.79,"k":"up"},{"t":2022.165,"v":7.85,"k":"up"},{"t":2022.183,"v":4.36,"k":"up"},{"t":2022.200,"v":4.07,"k":"up"},{"t":2022.222,"v":4.79,"k":"up"},{"t":2022.240,"v":3.17,"k":"down"},{"t":2022.257,"v":5.51,"k":"down"},{"t":2022.275,"v":3.71,"k":"down"},{"t":2022.297,"v":5.33,"k":"down"},{"t":2022.319,"v":4.97,"k":"down"},{"t":2022.336,"v":12.24,"k":"down"},{"t":2022.354,"v":5.51,"k":"down"},{"t":2022.376,"v":5.87,"k":"down"},{"t":2022.394,"v":5.4,"k":"down"},{"t":2022.411,"v":5.62,"k":"down"},{"t":2022.433,"v":9.86,"k":"down"},{"t":2022.450,"v":5.51,"k":"down"},{"t":2022.472,"v":5.87,"k":"down"},{"t":2022.490,"v":6.59,"k":"up"},{"t":2022.508,"v":6.41,"k":"up"},{"t":2022.530,"v":5.87,"k":"up"},{"t":2022.551,"v":6.48,"k":"up"},{"t":2022.573,"v":5.15,"k":"down"},{"t":2022.591,"v":6.23,"k":"up"},{"t":2022.609,"v":7.13,"k":"down"},{"t":2022.639,"v":5.26,"k":"up"},{"t":2022.661,"v":7.49,"k":"up"},{"t":2022.683,"v":11.38,"k":"up"},{"t":2022.701,"v":45.07,"k":"up"},{"t":2022.718,"v":27.65,"k":"down"},{"t":2022.740,"v":23.22,"k":"up"},{"t":2022.758,"v":22.25,"k":"down"},{"t":2022.775,"v":15.59,"k":"down"},{"t":2022.793,"v":12.53,"k":"down"},{"t":2022.810,"v":8.93,"k":"up"},{"t":2022.828,"v":15.7,"k":"down"},{"t":2022.850,"v":12.89,"k":"up"},{"t":2022.867,"v":11.88,"k":"up"},{"t":2022.889,"v":8.03,"k":"down"},{"t":2022.911,"v":6.3,"k":"down"},{"t":2022.929,"v":7.85,"k":"down"},{"t":2022.946,"v":6.59,"k":"down"},{"t":2022.968,"v":10.62,"k":"down"},{"t":2022.986,"v":10.91,"k":"down"},
{"t":2023.004,"v":17.21,"k":"up"},{"t":2023.021,"v":12.96,"k":"up"},{"t":2023.039,"v":10.37,"k":"up"},{"t":2023.061,"v":14.87,"k":"down"},{"t":2023.078,"v":7.85,"k":"down"},{"t":2023.105,"v":8.39,"k":"up"},{"t":2023.122,"v":7.67,"k":"down"},{"t":2023.144,"v":5.33,"k":"down"},{"t":2023.162,"v":16.92,"k":"up"},{"t":2023.179,"v":14.08,"k":"up"},{"t":2023.197,"v":33.12,"k":"up"},{"t":2023.219,"v":34.13,"k":"up"},{"t":2023.236,"v":9.47,"k":"down"},{"t":2023.254,"v":9.36,"k":"down"},{"t":2023.276,"v":9.29,"k":"up"},{"t":2023.289,"v":7.67,"k":"down"},{"t":2023.315,"v":6.23,"k":"down"},{"t":2023.333,"v":8.5,"k":"down"},{"t":2023.355,"v":8.21,"k":"down"},{"t":2023.372,"v":6.95,"k":"up"},{"t":2023.390,"v":11.38,"k":"up"},{"t":2023.408,"v":13.75,"k":"down"},{"t":2023.425,"v":13.14,"k":"down"},{"t":2023.443,"v":9.29,"k":"up"},{"t":2023.465,"v":7.13,"k":"down"},{"t":2023.482,"v":6.12,"k":"up"},{"t":2023.500,"v":34.27,"k":"up"},{"t":2023.526,"v":21.78,"k":"down"},{"t":2023.544,"v":10.8,"k":"down"},{"t":2023.561,"v":9.47,"k":"down"},{"t":2023.583,"v":8.46,"k":"up"},{"t":2023.601,"v":12.89,"k":"down"},{"t":2023.618,"v":7.67,"k":"up"},{"t":2023.636,"v":6.66,"k":"down"},{"t":2023.653,"v":5.69,"k":"down"},{"t":2023.671,"v":6.48,"k":"down"},{"t":2023.693,"v":5.33,"k":"down"},{"t":2023.715,"v":6.77,"k":"up"},{"t":2023.732,"v":7.06,"k":"down"},{"t":2023.750,"v":4.86,"k":"down"},{"t":2023.772,"v":8.32,"k":"up"},{"t":2023.794,"v":10.37,"k":"up"},{"t":2023.824,"v":11.99,"k":"up"},{"t":2023.846,"v":10.19,"k":"down"},{"t":2023.868,"v":6.23,"k":"up"},{"t":2023.890,"v":9.29,"k":"up"},{"t":2023.917,"v":6.7,"k":"up"},{"t":2023.934,"v":4.43,"k":"down"},{"t":2023.961,"v":6.77,"k":"up"},{"t":2023.978,"v":5.69,"k":"up"},
{"t":2024.000,"v":8.68,"k":"up"},{"t":2024.022,"v":4.43,"k":"down"},{"t":2024.044,"v":4.79,"k":"down"},{"t":2024.066,"v":4.79,"k":"up"},{"t":2024.088,"v":7.13,"k":"up"},{"t":2024.114,"v":6.59,"k":"down"},{"t":2024.136,"v":13.97,"k":"down"},{"t":2024.154,"v":13.86,"k":"down"},{"t":2024.171,"v":17.93,"k":"up"},{"t":2024.189,"v":13.75,"k":"up"},{"t":2024.206,"v":8.57,"k":"down"},{"t":2024.224,"v":8.03,"k":"down"},{"t":2024.242,"v":11.99,"k":"down"},{"t":2024.263,"v":6.77,"k":"down"},{"t":2024.281,"v":9.65,"k":"up"},{"t":2024.294,"v":6.23,"k":"down"},{"t":2024.312,"v":5.87,"k":"down"},{"t":2024.329,"v":5.51,"k":"up"},{"t":2024.351,"v":5.87,"k":"up"},{"t":2024.373,"v":3.53,"k":"up"},{"t":2024.395,"v":4.25,"k":"down"},{"t":2024.417,"v":4.97,"k":"up"},{"t":2024.439,"v":5.94,"k":"down"},{"t":2024.461,"v":3.46,"k":"down"},{"t":2024.478,"v":5.98,"k":"down"},{"t":2024.496,"v":9.47,"k":"up"},{"t":2024.513,"v":13.43,"k":"up"},{"t":2024.535,"v":8.21,"k":"down"},{"t":2024.553,"v":10.8,"k":"up"},{"t":2024.571,"v":15.95,"k":"up"},{"t":2024.593,"v":5.15,"k":"up"},{"t":2024.610,"v":5.33,"k":"down"},{"t":2024.637,"v":4.32,"k":"down"},{"t":2024.663,"v":5.22,"k":"up"},{"t":2024.680,"v":4.97,"k":"up"},{"t":2024.702,"v":4.25,"k":"up"},{"t":2024.724,"v":9.29,"k":"down"},{"t":2024.746,"v":3.71,"k":"down"},{"t":2024.768,"v":4.25,"k":"up"},{"t":2024.786,"v":5.22,"k":"down"},{"t":2024.803,"v":3.89,"k":"up"},{"t":2024.825,"v":4.97,"k":"down"},{"t":2024.843,"v":35.14,"k":"up"},{"t":2024.860,"v":24.05,"k":"up"},{"t":2024.878,"v":21.1,"k":"up"},{"t":2024.900,"v":27.79,"k":"up"},{"t":2024.917,"v":15.05,"k":"down"},{"t":2024.935,"v":14.87,"k":"down"},{"t":2024.957,"v":5.51,"k":"down"},{"t":2024.974,"v":7.31,"k":"up"},{"t":2024.996,"v":7.85,"k":"up"},
{"t":2025.014,"v":14.87,"k":"up"},{"t":2025.036,"v":6.77,"k":"up"},{"t":2025.058,"v":7.49,"k":"down"},{"t":2025.075,"v":10.91,"k":"up"},{"t":2025.093,"v":5.51,"k":"up"},{"t":2025.111,"v":4.61,"k":"down"},{"t":2025.128,"v":10.37,"k":"up"},{"t":2025.150,"v":9.83,"k":"up"},{"t":2025.168,"v":7.49,"k":"down"},{"t":2025.185,"v":4.97,"k":"up"},{"t":2025.207,"v":7.67,"k":"down"},{"t":2025.225,"v":7.13,"k":"up"},{"t":2025.242,"v":3.89,"k":"up"},{"t":2025.260,"v":3.82,"k":"down"},{"t":2025.282,"v":5.08,"k":"up"},{"t":2025.299,"v":3.82,"k":"down"},{"t":2025.326,"v":5.15,"k":"up"},{"t":2025.348,"v":4.07,"k":"down"},{"t":2025.370,"v":3.17,"k":"down"},{"t":2025.387,"v":3.53,"k":"down"},{"t":2025.409,"v":3.82,"k":"down"},{"t":2025.435,"v":4.79,"k":"down"},{"t":2025.457,"v":3.96,"k":"up"},{"t":2025.475,"v":3.89,"k":"up"},{"t":2025.493,"v":8.46,"k":"up"},{"t":2025.510,"v":11.16,"k":"up"},{"t":2025.537,"v":7.92,"k":"down"},{"t":2025.554,"v":6.41,"k":"up"},{"t":2025.572,"v":5.87,"k":"down"},{"t":2025.594,"v":3.89,"k":"down"},{"t":2025.611,"v":5.87,"k":"down"},{"t":2025.629,"v":4.43,"k":"down"},{"t":2025.651,"v":3.6,"k":"up"},{"t":2025.664,"v":3.71,"k":"up"},{"t":2025.686,"v":3.17,"k":"down"},{"t":2025.703,"v":4.07,"k":"down"},{"t":2025.721,"v":3.53,"k":"up"},{"t":2025.752,"v":6.84,"k":"down"},{"t":2025.769,"v":6.19,"k":"down"},{"t":2025.791,"v":3.96,"k":"up"},{"t":2025.809,"v":5.87,"k":"down"},{"t":2025.831,"v":5.33,"k":"down"},{"t":2025.857,"v":6.23,"k":"down"},{"t":2025.883,"v":4.14,"k":"down"},{"t":2025.901,"v":4.07,"k":"down"},{"t":2025.927,"v":3.96,"k":"down"},{"t":2025.954,"v":2.38,"k":"up"},{"t":2025.972,"v":2.74,"k":"up"},{"t":2025.989,"v":5.08,"k":"down"},{"t":2026.007,"v":4.14,"k":"down"},{"t":2026.024,"v":3.46,"k":"down"},{"t":2026.042,"v":0.1,"k":"up"}],
"volMA":[{"t":2020.37,"v":1.48},{"t":2020.444,"v":1.51},{"t":2020.532,"v":1.44},{"t":2020.576,"v":1.91},{"t":2020.62,"v":2.09},{"t":2020.73,"v":2.23},{"t":2020.839,"v":2.59},{"t":2020.883,"v":4.25},{"t":2020.936,"v":5.51},{"t":2020.958,"v":8.57},{"t":2020.993,"v":10.37},{"t":2021.041,"v":10.91},{"t":2021.09,"v":14.69},{"t":2021.133,"v":16.13},{"t":2021.169,"v":16.49},{"t":2021.221,"v":17.93},{"t":2021.248,"v":19.44},{"t":2021.292,"v":20.88},{"t":2021.313,"v":20.99},{"t":2021.344,"v":19.37},{"t":2021.379,"v":18.94},{"t":2021.414,"v":19.08},{"t":2021.454,"v":17.21},{"t":2021.52,"v":15.95},{"t":2021.564,"v":16.42},{"t":2021.608,"v":16.96},{"t":2021.63,"v":15.05},{"t":2021.66,"v":13.97},{"t":2021.687,"v":12.82},{"t":2021.709,"v":12.53},{"t":2021.761,"v":10.37},{"t":2021.827,"v":9.83},{"t":2021.858,"v":9.29},{"t":2021.915,"v":9.11},{"t":2021.968,"v":7.85},{"t":2021.99,"v":6.95},{"t":2022.025,"v":6.59},{"t":2022.06,"v":5.87},{"t":2022.112,"v":6.05},{"t":2022.178,"v":6.23},{"t":2022.244,"v":5.76},{"t":2022.31,"v":5.62},{"t":2022.354,"v":5.98},{"t":2022.42,"v":6.12},{"t":2022.45,"v":6.52},{"t":2022.494,"v":5.98},{"t":2022.573,"v":5.87},{"t":2022.626,"v":6.23},{"t":2022.67,"v":6.59},{"t":2022.705,"v":9.29},{"t":2022.749,"v":11.27},{"t":2022.793,"v":11.88},{"t":2022.828,"v":12.17},{"t":2022.881,"v":13.18},{"t":2022.946,"v":13.32},{"t":2022.99,"v":13.79},{"t":2023.034,"v":14.94},{"t":2023.065,"v":14.94},{"t":2023.091,"v":12.89},{"t":2023.122,"v":11.09},{"t":2023.153,"v":10.44},{"t":2023.179,"v":10.73},{"t":2023.214,"v":12.67},{"t":2023.254,"v":12.35},{"t":2023.298,"v":12.53},{"t":2023.342,"v":12.53},{"t":2023.386,"v":11.99},{"t":2023.473,"v":12.17},{"t":2023.517,"v":14.04},{"t":2023.561,"v":13.68},{"t":2023.592,"v":11.45},{"t":2023.618,"v":11.09},{"t":2023.693,"v":10.66},{"t":2023.759,"v":10.3},{"t":2023.803,"v":9.9},{"t":2023.864,"v":10.19},{"t":2023.89,"v":8.21},{"t":2023.934,"v":7.67},{"t":2023.987,"v":7.31},{"t":2024.11,"v":7.2},{"t":2024.154,"v":8.21},{"t":2024.185,"v":8.57},{"t":2024.233,"v":8.21},{"t":2024.273,"v":8.75},{"t":2024.351,"v":8.57},{"t":2024.395,"v":8.14},{"t":2024.505,"v":8.03},{"t":2024.549,"v":7.49},{"t":2024.602,"v":7.49},{"t":2024.659,"v":6.59},{"t":2024.703,"v":6.52},{"t":2024.747,"v":6.77},{"t":2024.812,"v":6.7},{"t":2024.847,"v":8.93},{"t":2024.9,"v":10.73},{"t":2024.931,"v":11.02},{"t":2024.957,"v":10.55},{"t":2024.997,"v":10.73},{"t":2025.023,"v":11.27},{"t":2025.085,"v":11.88},{"t":2025.12,"v":11.63},{"t":2025.164,"v":12.35},{"t":2025.199,"v":12.42},{"t":2025.229,"v":10.73},{"t":2025.26,"v":9.65},{"t":2025.286,"v":8.21},{"t":2025.326,"v":7.31},{"t":2025.361,"v":7.31},{"t":2025.418,"v":6.23},{"t":2025.462,"v":5.69},{"t":2025.515,"v":5.87},{"t":2025.602,"v":5.76},{"t":2025.646,"v":5.33},{"t":2025.712,"v":5.08},{"t":2025.778,"v":5.4},{"t":2025.857,"v":5.58},{"t":2025.919,"v":4.79},{"t":2025.976,"v":4.32},{"t":2026.042,"v":4.07}],
"volFlags":[{"t":2030.8,"t2":2031.35,"v":5.51,"v2":2.7,"k":"blue"},{"t":2030.8,"t2":2031.53,"v":2.7,"v2":0.03,"k":"teal"}],
"volText":[{"t":2030.907,"v":4.14,"s":"4.11 B"},{"t":2030.907,"v":1.37,"s":"100.43 M"}],
"macdGrid":[{"m":0.4,"t":2007.652,"t2":2030.794},{"m":0,"t":2007.652,"t2":2030.794}],
"hist":[
{"t":2020.639,"m":0.147,"k":"hL"},{"t":2020.66,"m":0.073,"k":"hL"},{"t":2020.68,"m":0.04,"k":"hL"},{"t":2020.701,"m":0.025,"k":"hL"},{"t":2020.721,"m":0.022,"k":"hL"},{"t":2020.742,"m":0.018,"k":"hL"},{"t":2020.763,"m":0.01,"k":"hL"},{"t":2020.792,"m":-0.004,"k":"hR"},{"t":2020.816,"m":-0.007,"k":"hR"},{"t":2020.854,"m":0.092,"k":"hD"},{"t":2020.874,"m":0.173,"k":"hD"},{"t":2020.895,"m":0.181,"k":"hD"},{"t":2020.916,"m":0.173,"k":"hL"},{"t":2020.936,"m":0.155,"k":"hL"},{"t":2020.957,"m":0.096,"k":"hL"},{"t":2020.998,"m":-0.052,"k":"hR"},{"t":2021.019,"m":-0.049,"k":"hR"},{"t":2021.04,"m":-0.052,"k":"hR"},{"t":2021.06,"m":-0.027,"k":"hS"},{"t":2021.085,"m":-0.004,"k":"hS"},{"t":2021.106,"m":0.055,"k":"hD"},{"t":2021.126,"m":0.025,"k":"hD"},{"t":2021.147,"m":0.013,"k":"hL"},{"t":2021.176,"m":-0.001,"k":"hR"},{"t":2021.197,"m":0.01,"k":"hD"},{"t":2021.217,"m":0.033,"k":"hD"},{"t":2021.238,"m":0.129,"k":"hD"},{"t":2021.259,"m":0.218,"k":"hD"},{"t":2021.279,"m":0.151,"k":"hD"},{"t":2021.3,"m":0.166,"k":"hD"},{"t":2021.321,"m":0.129,"k":"hL"},{"t":2021.341,"m":0.099,"k":"hL"},{"t":2021.383,"m":-0.049,"k":"hR"},{"t":2021.403,"m":-0.056,"k":"hR"},{"t":2021.424,"m":-0.067,"k":"hR"},{"t":2021.445,"m":-0.071,"k":"hR"},{"t":2021.465,"m":-0.071,"k":"hR"},{"t":2021.486,"m":-0.078,"k":"hR"},{"t":2021.507,"m":-0.078,"k":"hR"},{"t":2021.527,"m":-0.071,"k":"hS"},{"t":2021.548,"m":-0.064,"k":"hS"},{"t":2021.569,"m":-0.034,"k":"hS"},{"t":2021.589,"m":-0.019,"k":"hS"},{"t":2021.61,"m":0.018,"k":"hD"},{"t":2021.631,"m":0.022,"k":"hD"},{"t":2021.651,"m":0.01,"k":"hD"},{"t":2021.692,"m":0.003,"k":"hD"},{"t":2021.734,"m":-0.004,"k":"hR"},{"t":2021.775,"m":-0.012,"k":"hR"},{"t":2021.816,"m":-0.019,"k":"hR"},{"t":2021.858,"m":-0.027,"k":"hR"},{"t":2021.879,"m":-0.049,"k":"hR"},{"t":2021.899,"m":-0.049,"k":"hR"},{"t":2021.92,"m":-0.056,"k":"hR"},{"t":2021.94,"m":-0.064,"k":"hR"},{"t":2021.961,"m":-0.049,"k":"hR"},{"t":2021.982,"m":-0.056,"k":"hR"},{"t":2022.023,"m":-0.034,"k":"hS"},{"t":2022.064,"m":-0.027,"k":"hS"},{"t":2022.106,"m":-0.012,"k":"hS"},{"t":2022.147,"m":-0.004,"k":"hS"},{"t":2022.209,"m":0.01,"k":"hD"},{"t":2022.271,"m":0.013,"k":"hD"},{"t":2022.292,"m":-0.027,"k":"hR"},{"t":2022.312,"m":-0.049,"k":"hR"},{"t":2022.333,"m":-0.064,"k":"hR"},{"t":2022.354,"m":-0.086,"k":"hR"},{"t":2022.374,"m":-0.101,"k":"hR"},{"t":2022.395,"m":-0.115,"k":"hR"},{"t":2022.416,"m":-0.13,"k":"hR"},{"t":2022.436,"m":-0.138,"k":"hR"},{"t":2022.457,"m":-0.138,"k":"hR"},{"t":2022.478,"m":-0.138,"k":"hS"},{"t":2022.498,"m":-0.123,"k":"hS"},{"t":2022.519,"m":-0.101,"k":"hS"},{"t":2022.54,"m":-0.071,"k":"hS"},{"t":2022.56,"m":-0.034,"k":"hS"},{"t":2022.643,"m":0.003,"k":"hD"},{"t":2022.663,"m":0.025,"k":"hD"},{"t":2022.684,"m":0.033,"k":"hD"},{"t":2022.705,"m":0.07,"k":"hD"},{"t":2022.725,"m":0.081,"k":"hL"},{"t":2022.746,"m":0.084,"k":"hL"},{"t":2022.767,"m":0.084,"k":"hL"},{"t":2022.787,"m":0.081,"k":"hL"},{"t":2022.808,"m":0.081,"k":"hL"},{"t":2022.829,"m":0.062,"k":"hL"},{"t":2022.849,"m":0.047,"k":"hL"},{"t":2022.87,"m":0.04,"k":"hL"},{"t":2022.891,"m":0.033,"k":"hL"},{"t":2022.911,"m":0.018,"k":"hL"},{"t":2022.932,"m":0.007,"k":"hL"},{"t":2022.953,"m":-0.004,"k":"hR"},{"t":2022.973,"m":-0.012,"k":"hR"},{"t":2022.994,"m":-0.004,"k":"hR"},{"t":2023.023,"m":0.013,"k":"hD"},{"t":2023.04,"m":0.04,"k":"hD"},{"t":2023.056,"m":0.04,"k":"hD"},{"t":2023.085,"m":0.033,"k":"hD"},{"t":2023.11,"m":0.025,"k":"hL"},{"t":2023.13,"m":0.025,"k":"hL"},{"t":2023.151,"m":0.022,"k":"hL"},{"t":2023.172,"m":0.018,"k":"hL"},{"t":2023.201,"m":0.047,"k":"hD"},{"t":2023.221,"m":0.092,"k":"hD"},{"t":2023.242,"m":0.096,"k":"hD"},{"t":2023.263,"m":0.077,"k":"hL"},{"t":2023.283,"m":0.062,"k":"hL"},{"t":2023.304,"m":0.047,"k":"hL"},{"t":2023.387,"m":0.04,"k":"hL"},{"t":2023.449,"m":0.033,"k":"hL"},{"t":2023.511,"m":0.025,"k":"hL"},{"t":2023.593,"m":0.01,"k":"hL"},{"t":2023.8,"m":-0.004,"k":"hR"},{"t":2023.883,"m":0.01,"k":"hD"},{"t":2023.924,"m":0.007,"k":"hD"},{"t":2023.986,"m":-0.012,"k":"hR"},{"t":2024.006,"m":-0.012,"k":"hR"},{"t":2024.027,"m":-0.019,"k":"hR"},{"t":2024.068,"m":-0.004,"k":"hR"},{"t":2024.13,"m":0.007,"k":"hD"},{"t":2024.172,"m":0.01,"k":"hD"},{"t":2024.234,"m":-0.004,"k":"hR"},{"t":2024.254,"m":-0.012,"k":"hR"},{"t":2024.275,"m":-0.027,"k":"hR"},{"t":2024.296,"m":-0.034,"k":"hR"},{"t":2024.337,"m":-0.037,"k":"hR"},{"t":2024.378,"m":-0.037,"k":"hR"},{"t":2024.42,"m":-0.041,"k":"hR"},{"t":2024.461,"m":-0.034,"k":"hR"},{"t":2024.482,"m":-0.012,"k":"hR"},{"t":2024.523,"m":0.03,"k":"hD"},{"t":2024.552,"m":0.036,"k":"hD"},{"t":2024.585,"m":0.037,"k":"hD"},{"t":2024.614,"m":0.04,"k":"hD"},{"t":2024.647,"m":0.033,"k":"hD"},{"t":2024.676,"m":0.025,"k":"hD"},{"t":2024.701,"m":0.04,"k":"hD"},{"t":2024.73,"m":0.01,"k":"hL"},{"t":2024.759,"m":0.01,"k":"hL"},{"t":2024.792,"m":-0.012,"k":"hR"},{"t":2024.833,"m":0.114,"k":"hD"},{"t":2024.854,"m":0.21,"k":"hD"},{"t":2024.874,"m":0.247,"k":"hD"},{"t":2024.895,"m":0.358,"k":"hD"},{"t":2024.915,"m":0.306,"k":"hL"},{"t":2024.936,"m":0.232,"k":"hL"},{"t":2024.957,"m":0.195,"k":"hL"},{"t":2024.977,"m":0.173,"k":"hL"},{"t":2024.998,"m":0.136,"k":"hL"},{"t":2025.019,"m":0.084,"k":"hL"},{"t":2025.039,"m":0.033,"k":"hL"},{"t":2025.081,"m":-0.034,"k":"hR"},{"t":2025.101,"m":-0.041,"k":"hR"},{"t":2025.122,"m":-0.049,"k":"hR"},{"t":2025.143,"m":-0.064,"k":"hR"},{"t":2025.163,"m":-0.078,"k":"hR"},{"t":2025.184,"m":-0.086,"k":"hR"},{"t":2025.205,"m":-0.093,"k":"hR"},{"t":2025.246,"m":-0.101,"k":"hR"},{"t":2025.287,"m":-0.101,"k":"hR"},{"t":2025.329,"m":-0.101,"k":"hR"},{"t":2025.37,"m":-0.093,"k":"hR"},{"t":2025.411,"m":-0.086,"k":"hR"},{"t":2025.452,"m":-0.071,"k":"hR"},{"t":2025.514,"m":0.033,"k":"hL"},{"t":2025.543,"m":0.04,"k":"hL"},{"t":2025.576,"m":0.033,"k":"hL"},{"t":2025.618,"m":0.01,"k":"hL"},{"t":2025.659,"m":-0.012,"k":"hS"},{"t":2025.7,"m":-0.027,"k":"hR"},{"t":2025.742,"m":-0.041,"k":"hR"},{"t":2025.783,"m":-0.064,"k":"hR"},{"t":2025.824,"m":-0.078,"k":"hR"},{"t":2025.866,"m":-0.09,"k":"hR"},{"t":2025.907,"m":-0.093,"k":"hR"},{"t":2025.948,"m":-0.09,"k":"hS"},{"t":2025.99,"m":-0.071,"k":"hR"},{"t":2026.031,"m":-0.056,"k":"hR"}],
"macdFast":[{"t":2020.474,"m":-0.071},{"t":2020.536,"m":-0.041},{"t":2020.577,"m":0.047},{"t":2020.618,"m":0.07},{"t":2020.68,"m":0.047},{"t":2020.763,"m":0.04},{"t":2020.845,"m":0.036},{"t":2020.887,"m":0.181},{"t":2020.936,"m":0.213},{"t":2020.969,"m":0.114},{"t":2021.04,"m":0.062},{"t":2021.093,"m":0.136},{"t":2021.135,"m":0.121},{"t":2021.217,"m":0.129},{"t":2021.259,"m":0.277},{"t":2021.312,"m":0.317},{"t":2021.341,"m":0.314},{"t":2021.383,"m":0.24},{"t":2021.445,"m":0.144},{"t":2021.507,"m":0.04},{"t":2021.56,"m":0.015},{"t":2021.61,"m":0.114},{"t":2021.659,"m":0.126},{"t":2021.713,"m":0.099},{"t":2021.816,"m":0.055},{"t":2021.899,"m":0.04},{"t":2021.982,"m":-0.019},{"t":2022.064,"m":-0.049},{"t":2022.147,"m":-0.056},{"t":2022.209,"m":-0.041},{"t":2022.292,"m":-0.056},{"t":2022.374,"m":-0.138},{"t":2022.436,"m":-0.212},{"t":2022.498,"m":-0.274},{"t":2022.56,"m":-0.256},{"t":2022.663,"m":-0.212},{"t":2022.725,"m":-0.101},{"t":2022.787,"m":-0.046},{"t":2022.87,"m":-0.071},{"t":2022.973,"m":-0.086},{"t":2023.023,"m":-0.071},{"t":2023.159,"m":-0.041},{"t":2023.201,"m":-0.019},{"t":2023.242,"m":0.043},{"t":2023.304,"m":0.043},{"t":2023.387,"m":0.04},{"t":2023.511,"m":0.055},{"t":2023.634,"m":0.04},{"t":2023.8,"m":0.025},{"t":2023.986,"m":0.025},{"t":2024.068,"m":0.003},{"t":2024.192,"m":0.025},{"t":2024.296,"m":0.003},{"t":2024.378,"m":-0.027},{"t":2024.482,"m":-0.052},{"t":2024.543,"m":-0.019},{"t":2024.709,"m":0.025},{"t":2024.812,"m":0.003},{"t":2024.854,"m":0.129},{"t":2024.915,"m":0.336},{"t":2024.977,"m":0.318},{"t":2025.039,"m":0.314},{"t":2025.101,"m":0.247},{"t":2025.184,"m":0.166},{"t":2025.308,"m":0.129},{"t":2025.452,"m":0.114},{"t":2025.618,"m":0.084},{"t":2025.721,"m":0.055},{"t":2025.804,"m":0.01},{"t":2025.886,"m":-0.064},{"t":2025.969,"m":-0.067},{"t":2026.044,"m":-0.081}],
"macdSlow":[{"t":2020.639,"m":0.003},{"t":2020.68,"m":0.025},{"t":2020.763,"m":0.037},{"t":2020.845,"m":0.036},{"t":2020.887,"m":0.07},{"t":2020.949,"m":0.141},{"t":2020.998,"m":0.129},{"t":2021.052,"m":0.104},{"t":2021.135,"m":0.118},{"t":2021.217,"m":0.121},{"t":2021.279,"m":0.181},{"t":2021.341,"m":0.247},{"t":2021.383,"m":0.255},{"t":2021.445,"m":0.218},{"t":2021.527,"m":0.114},{"t":2021.602,"m":0.077},{"t":2021.713,"m":0.092},{"t":2021.816,"m":0.055},{"t":2021.94,"m":0.018},{"t":2022.023,"m":-0.027},{"t":2022.106,"m":-0.061},{"t":2022.209,"m":-0.061},{"t":2022.312,"m":-0.071},{"t":2022.395,"m":-0.145},{"t":2022.519,"m":-0.231},{"t":2022.601,"m":-0.237},{"t":2022.684,"m":-0.219},{"t":2022.767,"m":-0.145},{"t":2022.849,"m":-0.086},{"t":2022.973,"m":-0.083},{"t":2023.077,"m":-0.056},{"t":2023.18,"m":-0.041},{"t":2023.263,"m":0.01},{"t":2023.387,"m":0.037},{"t":2023.511,"m":0.044},{"t":2023.634,"m":0.044},{"t":2023.8,"m":0.028},{"t":2023.986,"m":0.025},{"t":2024.13,"m":0.013},{"t":2024.213,"m":0.018},{"t":2024.337,"m":-0.004},{"t":2024.502,"m":-0.034},{"t":2024.626,"m":0.003},{"t":2024.812,"m":0.01},{"t":2024.895,"m":0.129},{"t":2024.957,"m":0.24},{"t":2025.06,"m":0.284},{"t":2025.143,"m":0.247},{"t":2025.246,"m":0.188},{"t":2025.329,"m":0.129},{"t":2025.452,"m":0.107},{"t":2025.618,"m":0.092},{"t":2025.742,"m":0.062},{"t":2025.866,"m":0.003},{"t":2025.969,"m":-0.041},{"t":2026.044,"m":-0.059}],
"macdLinks":[{"t":2020.792,"t2":2021.445,"m":0,"m2":-0.086,"k":"faint"},{"t":2021.61,"t2":2021.94,"m":-0.096,"m2":-0.059,"k":"green"},{"t":2024.895,"t2":2025.394,"m":0.181,"m2":0.092,"k":"mred"},{"t":2022.498,"t2":2022.725,"m":0.056,"m2":0.081,"k":"pink"},{"t":2023.242,"t2":2023.634,"m":0.052,"m2":0.037,"k":"mred"},{"t":2022.064,"t2":2022.23,"m":0.007,"m2":0.013,"k":"pink"},{"t":2024.812,"t2":2025.143,"m":-0.012,"m2":-0.049,"k":"faint"}],
"tags":[
{"g":0,"t":2021.631,"t2":2022.044,"m":0.102,"m2":0,"mc":0.051,"tc":2021.837,"s":"Bear","k":"mred"},
{"g":0,"t":2023.23,"t2":2023.738,"m":0,"m2":-0.105,"mc":-0.05,"tc":2023.478,"s":"H Bull","k":"green"},
{"g":1,"t":2022.465,"t2":2023.015,"m":0.187,"m2":0.081,"mc":0.136,"tc":2022.738,"s":"H Bear","k":"mred"},
{"g":1,"t":2021.949,"t2":2022.498,"m":0.119,"m2":0.013,"mc":0.068,"tc":2022.221,"s":"H Bear","k":"mred"},
{"g":1,"t":2023.337,"t2":2023.75,"m":0.147,"m2":0.043,"mc":0.097,"tc":2023.544,"s":"Bear","k":"mred"},
{"g":1,"t":2023.643,"t2":2024.056,"m":0.114,"m2":0.013,"mc":0.065,"tc":2023.85,"s":"Bear","k":"mred"},
{"g":1,"t":2025.329,"t2":2025.742,"m":0.133,"m2":0.028,"mc":0.082,"tc":2025.527,"s":"Bear","k":"mred"},
{"g":1,"t":2020.792,"t2":2021.288,"m":-0.053,"m2":-0.16,"mc":-0.104,"tc":2021.04,"s":"H Bull","k":"green"},
{"g":1,"t":2021.267,"t2":2021.775,"m":-0.093,"m2":-0.2,"mc":-0.145,"tc":2021.515,"s":"H Bull","k":"green"},
{"g":1,"t":2021.87,"t2":2022.23,"m":-0.059,"m2":-0.167,"mc":-0.11,"tc":2022.052,"s":"Bull","k":"green"},
{"g":1,"t":2023.821,"t2":2024.238,"m":-0.027,"m2":-0.13,"mc":-0.076,"tc":2024.048,"s":"Bull","k":"green"},
{"g":1,"t":2023.445,"t2":2023.945,"m":-0.027,"m2":-0.138,"mc":-0.083,"tc":2023.697,"s":"H Bull","k":"green"},
{"g":1,"t":2024.974,"t2":2025.478,"m":-0.067,"m2":-0.172,"mc":-0.118,"tc":2025.217,"s":"H Bull","k":"green"}],
"macdFlags":[{"t":2030.8,"t2":2031.398,"m":0.121,"m2":0.0102,"k":"mred"},{"t":2030.8,"t2":2031.479,"m":0.0102,"m2":-0.0978,"k":"mred2"}],
"macdText":[{"t":2030.907,"m":0.182,"s":"0.0278","k":"ink"},{"t":2030.907,"m":0.0667,"s":"0.0278","k":"white"},{"t":2030.907,"m":-0.0436,"s":"−0.0447","k":"white"},{"t":2030.907,"m":-0.156,"s":"−0.0453","k":"ink"},{"t":2030.907,"m":-0.274,"s":"−0.0453","k":"ink"}],
"macdUnder":[{"t":2030.8,"t2":2031.479,"m":-0.336}]
},
"encoding":{"x":{"field":"t","type":"quantitative","title":null,"scale":{"domain":[2007.53,2031.716],"range":[0,2987],"nice":false,"zero":false},
"axis":{"orient":"bottom","offset":-112,"values":[2020,2021,2022,2023,2024,2025,2026,2027,2028,2029,2030],"format":"d","grid":false,"ticks":false,"domain":false,"labelPadding":0,"labelBaseline":"middle","labelFontSize":18,"labelFontWeight":500,"labelColor":"#131722","labelFlush":false,"labelOverlap":false,"title":null}}},
"resolve":{"scale":{"y":"independent"}},
"layer":[
{"encoding":{"y":{"field":"p","type":"quantitative","title":null,"scale":{"domain":[-5.8003,6.5147],"range":[2048,0],"nice":false,"zero":false},
"axis":{"orient":"right","offset":-100,"values":[5.5,5,4.5,4,3.5,3,2.5,2,1.5,1,0.5,0,-0.5,-1,-1.5,-2,-2.5,-3,-3.5],"format":".4f","grid":false,"ticks":false,"domain":false,"labelPadding":0,"labelAlign":"left","labelFontSize":18,"labelColor":"#131722","labelOverlap":false,"labelFlush":false,"title":null}}},
"layer":[
{"data":{"name":"frame"},"mark":{"type":"rect","fill":"transparent","stroke":"#f0f0f3","strokeWidth":2},"encoding":{"x2":{"field":"t2"},"y2":{"field":"p2"}}},
{"data":{"name":"paneTop"},"mark":{"type":"rule","color":"#f0f1f4","strokeWidth":1.5},"encoding":{"x2":{"field":"t2"}}},
{"data":{"name":"gridH"},"mark":{"type":"rule","color":"#f3f4f6","strokeWidth":1.5},"encoding":{"x2":{"field":"t2"}}},
{"data":{"name":"gridV"},"mark":{"type":"rule","color":"#f3f4f6","strokeWidth":1.5},"encoding":{"y2":{"field":"p2"}}},
{"data":{"name":"paneMid"},"mark":{"type":"rule","color":"#e0e3eb","strokeWidth":1.5},"encoding":{"x2":{"field":"t2"}}},
{"data":{"name":"boxes"},"mark":{"type":"rect","fill":"#d8d8d8"},"encoding":{"x2":{"field":"t2"},"y2":{"field":"p2"}}},
{"data":{"name":"zones"},"mark":{"type":"rect","fill":"#deb3e3","stroke":"#8c8c8c","strokeWidth":1.5},"encoding":{"x2":{"field":"t2"},"y2":{"field":"p2"}}},
{"data":{"name":"zones"},"mark":{"type":"rule","color":"#9c27b0","strokeWidth":1.5,"strokeDash":[8,6]},"encoding":{"y":{"field":"mid","type":"quantitative"},"x2":{"field":"t2"}}},
{"data":{"name":"candles"},"mark":{"type":"rule","color":"#000000","strokeWidth":1.1},"encoding":{"y2":{"field":"p2"}}},
{"data":{"name":"greenBox"},"mark":{"type":"rect","fill":"#b2dfdb","stroke":"#8c8c8c","strokeWidth":1.2},"encoding":{"x2":{"field":"t2"},"y2":{"field":"p2"}}},
{"data":{"name":"greenBox"},"mark":{"type":"rule","color":"#9c27b0","strokeWidth":1.2,"strokeDash":[6,4]},"encoding":{"y":{"field":"mid","type":"quantitative"},"x2":{"field":"t2"}}},
{"data":{"name":"ann"},"mark":{"type":"rule","strokeWidth":3},"encoding":{"x2":{"field":"t2"},"y2":{"field":"p2"},"color":{"field":"k","type":"nominal","scale":{"domain":["black","red","orange","blue","info","white","ink","mute","up","down","teal","hD","hL","hR","hS","faint","green","mred","pink","mred2"],"range":["#000000","#f23645","#ff9800","#2962ff","#e3effd","#ffffff","#131722","#787b86","#7fcbbd","#f79aa2","#089981","#1b5e20","#81c784","#b71c1c","#e57373","#dfe6e0","#4caf50","#ff5252","#f6c6c6","#e57373"]}}}},
{"data":{"name":"fibLeft"},"mark":{"type":"text","align":"right","baseline":"middle","fontSize":18,"color":"#131722"},"encoding":{"text":{"field":"s"}}},
{"data":{"name":"tips"},"mark":{"type":"rect","fill":"#ffffff","stroke":"#e6e7ea","strokeWidth":1.5,"cornerRadius":6},"encoding":{"x2":{"field":"t2"},"y2":{"field":"p2"}}},
{"data":{"name":"usdt"},"mark":{"type":"rect","fill":"#ffffff","stroke":"#e8e9ec","strokeWidth":1.5,"cornerRadius":4},"encoding":{"x2":{"field":"t2"},"y2":{"field":"p2"}}},
{"data":{"name":"tipText"},"mark":{"type":"text","align":"center","baseline":"middle","fontSize":18,"color":"#131722"},"encoding":{"text":{"field":"s"}}},
{"data":{"name":"flags"},"mark":{"type":"rect","cornerRadius":2},"encoding":{"x2":{"field":"t2"},"y2":{"field":"p2"},"color":{"field":"k","type":"nominal"}}},
{"data":{"name":"flagText"},"mark":{"type":"text","align":"left","baseline":"middle","fontSize":18},"encoding":{"text":{"field":"s"},"color":{"field":"k","type":"nominal"}}},
{"data":{"name":"header1"},"mark":{"type":"text","align":"left","baseline":"middle","fontSize":17.9,"color":"#131722"},"encoding":{"text":{"field":"s"}}},
{"data":{"name":"header2"},"mark":{"type":"text","align":"left","baseline":"middle","fontSize":18,"color":"#131722"},"encoding":{"text":{"field":"s"}}},
{"data":{"name":"logoRect"},"mark":{"type":"rect","fill":"#131722"},"encoding":{"x2":{"field":"t2"},"y2":{"field":"p2"}}},
{"data":{"name":"logoDot"},"mark":{"type":"point","filled":true,"shape":"circle","size":70,"color":"#131722","opacity":1}},
{"data":{"name":"logoSlash"},"mark":{"type":"rule","strokeWidth":11,"color":"#131722"},"encoding":{"x2":{"field":"t2"},"y2":{"field":"p2"}}},
{"data":{"name":"logoText"},"mark":{"type":"text","align":"left","baseline":"middle","fontSize":30,"fontWeight":600,"font":"Inter","color":"#131722"},"encoding":{"text":{"field":"s"}}},
{"data":{"name":"mark"},"mark":{"type":"text","align":"left","baseline":"middle","fontSize":24,"color":"#c8c8c8"},"encoding":{"text":{"field":"s"}}},
{"data":{"name":"markIcon"},"mark":{"type":"point","shape":"diamond","filled":false,"color":"#cfcfcf","strokeWidth":3,"opacity":1},"encoding":{"size":{"field":"z","type":"quantitative","scale":null}}}
]},
{"encoding":{"y":{"field":"v","type":"quantitative","axis":null,"scale":{"domain":[-33.38,188.03],"range":[2048,0],"nice":false,"zero":false}}},
"layer":[
{"data":{"name":"volume"},"mark":{"type":"rule","strokeWidth":1.1},"encoding":{"y2":{"datum":0},"color":{"field":"k","type":"nominal"}}},
{"data":{"name":"volMA"},"mark":{"type":"line","color":"#2962ff","strokeWidth":2.8,"interpolate":"linear"},"encoding":{}},
{"data":{"name":"volFlags"},"mark":{"type":"rect","cornerRadius":2},"encoding":{"x2":{"field":"t2"},"y2":{"field":"v2"},"color":{"field":"k","type":"nominal"}}},
{"data":{"name":"volText"},"mark":{"type":"text","align":"left","baseline":"middle","fontSize":18,"color":"#ffffff"},"encoding":{"text":{"field":"s"}}}
]},
{"encoding":{"y":{"field":"m","type":"quantitative","title":null,"scale":{"domain":[-0.929,8.173],"range":[2048,0],"nice":false,"zero":false},
"axis":{"orient":"right","offset":-100,"values":[0.4],"format":".4f","grid":false,"ticks":false,"domain":false,"labelPadding":0,"labelAlign":"left","labelFontSize":18,"labelColor":"#131722","labelFlush":false,"title":null}}},
"layer":[
{"data":{"name":"macdGrid"},"mark":{"type":"rule","color":"#f3f4f6","strokeWidth":1.5},"encoding":{"x2":{"field":"t2"}}},
{"data":{"name":"hist"},"mark":{"type":"rule","strokeWidth":1.2},"encoding":{"y2":{"datum":0},"color":{"field":"k","type":"nominal"}}},
{"data":{"name":"macdFast"},"mark":{"type":"line","color":"#22c3f5","strokeWidth":2},"encoding":{}},
{"data":{"name":"macdSlow"},"mark":{"type":"line","color":"#e12ff0","strokeWidth":2},"encoding":{}},
{"data":{"name":"macdLinks"},"mark":{"type":"rule","strokeWidth":3},"encoding":{"x2":{"field":"t2"},"y2":{"field":"m2"},"color":{"field":"k","type":"nominal"}}},
{"data":{"name":"tags"},"transform":[{"filter":"datum.g==0"}],"mark":{"type":"rect","cornerRadius":4},"encoding":{"x2":{"field":"t2"},"y2":{"field":"m2"},"color":{"field":"k","type":"nominal"}}},
{"data":{"name":"tags"},"transform":[{"filter":"datum.g==0"}],"mark":{"type":"text","align":"center","baseline":"middle","fontSize":17,"fontWeight":500,"color":"#ffffff"},"encoding":{"x":{"field":"tc","type":"quantitative"},"y":{"field":"mc","type":"quantitative"},"text":{"field":"s"}}},
{"data":{"name":"tags"},"transform":[{"filter":"datum.g==1"}],"mark":{"type":"rect","cornerRadius":4},"encoding":{"x2":{"field":"t2"},"y2":{"field":"m2"},"color":{"field":"k","type":"nominal"}}},
{"data":{"name":"tags"},"transform":[{"filter":"datum.g==1"}],"mark":{"type":"text","align":"center","baseline":"middle","fontSize":17,"fontWeight":500,"color":"#ffffff"},"encoding":{"x":{"field":"tc","type":"quantitative"},"y":{"field":"mc","type":"quantitative"},"text":{"field":"s"}}},
{"data":{"name":"macdFlags"},"mark":{"type":"rect","cornerRadius":2},"encoding":{"x2":{"field":"t2"},"y2":{"field":"m2"},"color":{"field":"k","type":"nominal"}}},
{"data":{"name":"macdText"},"mark":{"type":"text","align":"left","baseline":"middle","fontSize":18},"encoding":{"text":{"field":"s"},"color":{"field":"k","type":"nominal"}}},
{"data":{"name":"macdUnder"},"mark":{"type":"rule","color":"#e020f0","strokeWidth":2},"encoding":{"x2":{"field":"t2"}}}
]}
]
}
